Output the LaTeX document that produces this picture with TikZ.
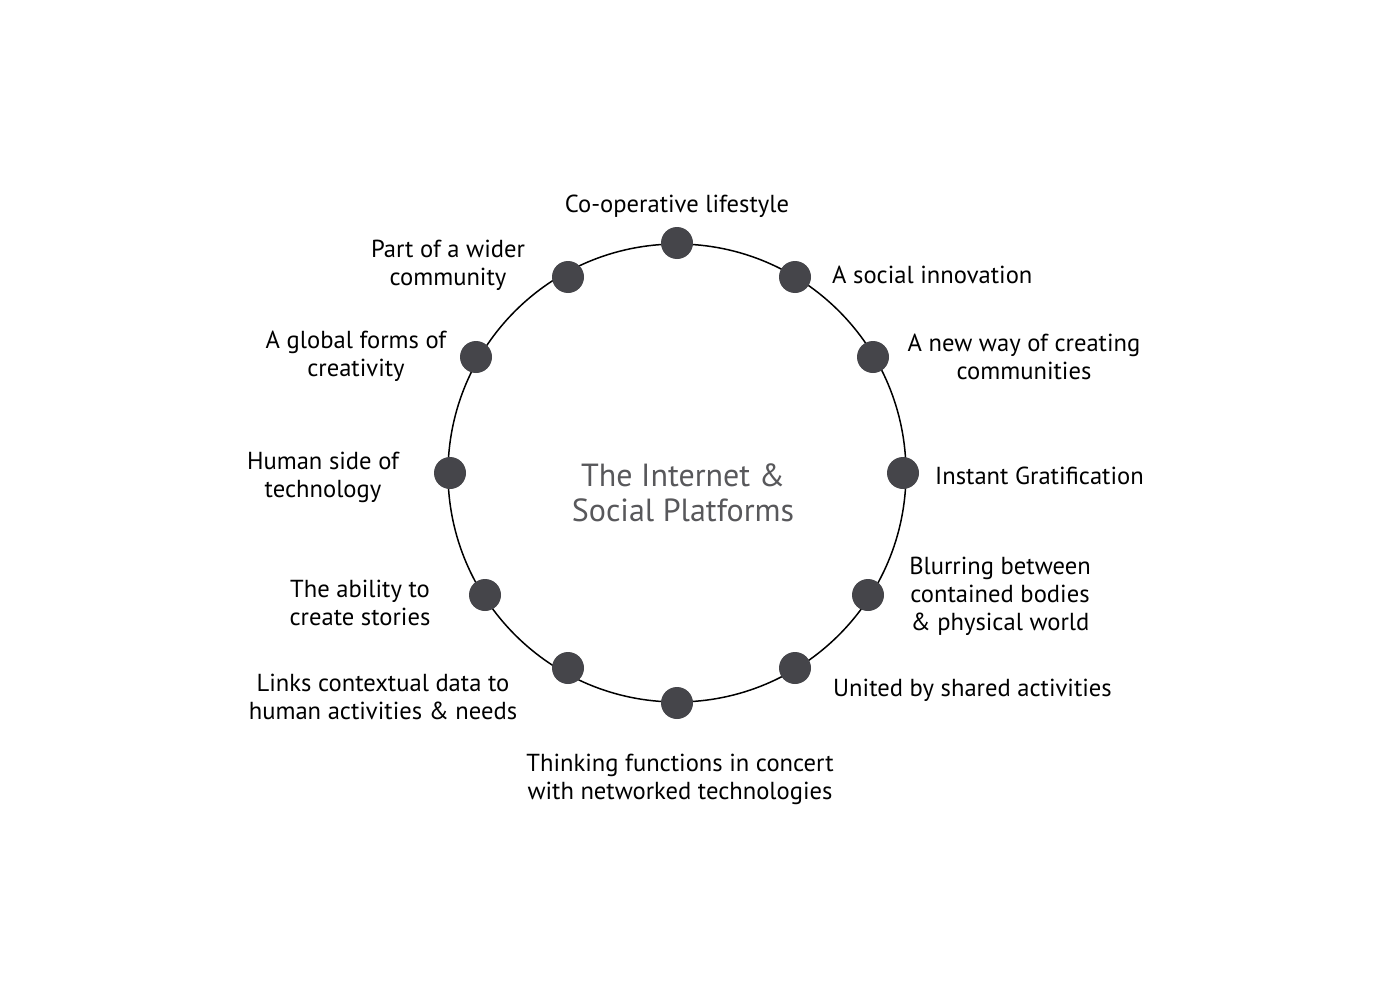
\documentclass[tikz,border=0pt]{standalone}
\usepackage{fontspec}
\setmainfont{PT Sans}
\begin{document}
\begin{tikzpicture}[x=1pt,y=-1pt,
  dot/.style={circle,fill=dotgrey,draw=none,minimum size=32pt,inner sep=0pt},
  lbl/.style={font=\fontsize{24.6}{28}\selectfont,text=black,align=center,inner sep=0pt},
  ttl/.style={font=\fontsize{32}{35}\selectfont,text=titlegrey,align=center,inner sep=0pt}]
\definecolor{dotgrey}{HTML}{45454A}
\definecolor{titlegrey}{HTML}{58585B}
\useasboundingbox (0,0) rectangle (1400,990);
\coordinate (c) at (677,473);
\draw[line width=1.5pt] (c) circle (229);
\node[dot] (d1) at (677,243) {};
\node[dot] (d2) at (795,277) {};
\node[dot] (d3) at (873,357) {};
\node[dot] (d4) at (903,473) {};
\node[dot] (d5) at (868,595) {};
\node[dot] (d6) at (795,668) {};
\node[dot] (d7) at (677,703) {};
\node[dot] (d8) at (568,668) {};
\node[dot] (d9) at (485,595) {};
\node[dot] (d10) at (450,473) {};
\node[dot] (d11) at (476,357) {};
\node[dot] (d12) at (568,277) {};
\node[ttl] (t) at (683,493) {The Internet \&\\Social Platforms};
\node[lbl] (l1) at (677,206) {Co-operative lifestyle};
\node[lbl,anchor=west] (l2) at (832,275) {A social innovation};
\node[lbl] (l3) at (1024,357) {A new way of creating\\communities};
\node[lbl,anchor=west] (l4) at (935,476) {Instant Gratification};
\node[lbl] (l5) at (1000,596) {Blurring between\\contained bodies\\\& physical world};
\node[lbl,anchor=west] (l6) at (833,690) {United by shared activities};
\node[lbl] (l7) at (680,779) {Thinking functions in concert\\with networked technologies};
\node[lbl] (l8) at (383,697) {Links contextual data to\\human activities \& needs};
\node[lbl] (l9) at (360,603) {The ability to\\create stories};
\node[lbl] (l10) at (323,477) {Human side of\\technology};
\node[lbl] (l11) at (356,356) {A global forms of\\creativity};
\node[lbl] (l12) at (448,265) {Part of a wider\\community};
\end{tikzpicture}
\end{document}
